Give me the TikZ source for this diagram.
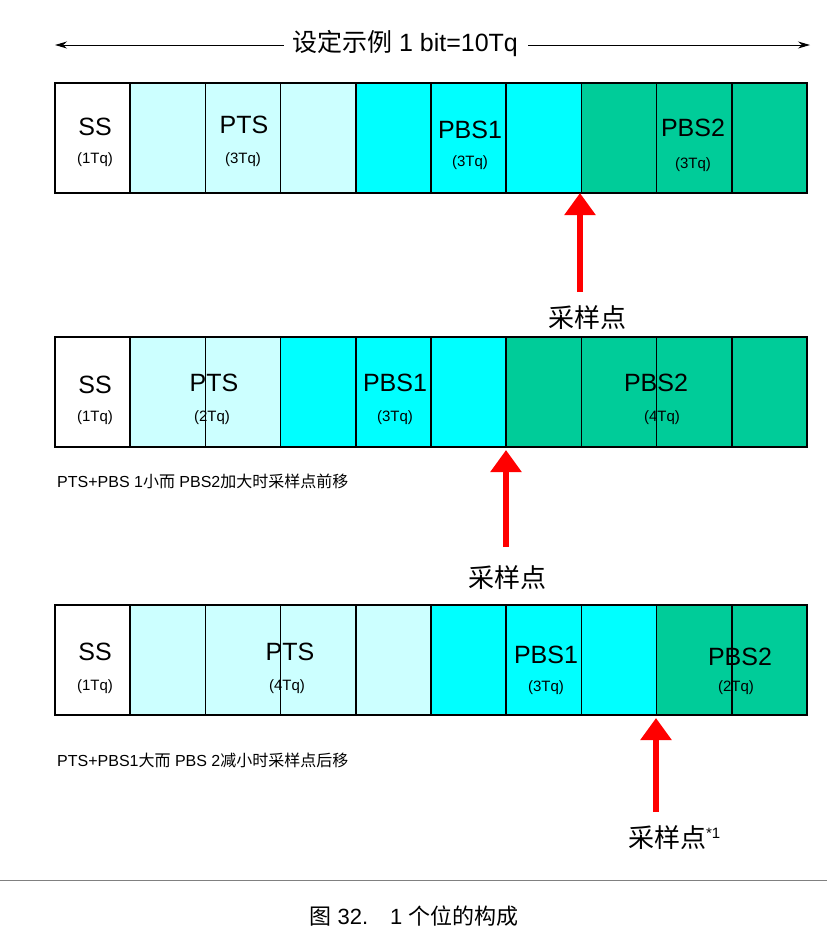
\documentclass[tikz,border=0pt]{standalone}
\usepackage{fontspec}
\setmainfont{Liberation Sans}
\newfontfamily\cjk{Noto Sans CJK SC}
\usetikzlibrary{arrows.meta}
\definecolor{lc}{HTML}{CCFFFF}
\definecolor{cy}{HTML}{00FFFF}
\definecolor{gr}{HTML}{00CC99}
\tikzset{
 cell/.style={draw=black,line width=1.6pt},
 big/.style={font=\fontsize{25}{25}\selectfont,inner sep=0},
 sml/.style={font=\fontsize{15}{15}\selectfont,inner sep=0},
 lab/.style={font=\cjk\fontsize{26}{26}\selectfont,inner sep=0},
 note/.style={font=\fontsize{16}{16}\selectfont,anchor=west,inner sep=0},
 redarrow/.style={draw=red,line width=6pt,-{Triangle[length=22pt,width=30pt]}},
}
\begin{document}
\begin{tikzpicture}[x=1pt,y=-1pt]
\useasboundingbox (0,0) rectangle (827,948);
\def\cw{75.2}
% bars: #1 top y, #2 PTS cells, #3 PBS1 cells
\foreach \ty/\np/\nb in {83/3/3,337/2/3,605/4/3}{
  \foreach \i in {0,...,9}{
    \pgfmathsetmacro\x{55+\i*\cw}
    \pgfmathtruncatemacro\a{\np}
    \pgfmathtruncatemacro\b{\np+\nb}
    \ifnum\i=0 \def\c{white}\else
      \ifnum\i>\a \ifnum\i>\b \def\c{gr}\else\def\c{cy}\fi\else\def\c{lc}\fi\fi
    \fill[\c] (\x,\ty) rectangle ++(\cw,110);
    \draw[cell] (\x,\ty) rectangle ++(\cw,110);
  }
}
% top arrow
\node[font=\fontsize{25}{25}\selectfont,inner sep=0] (title) at (405,44) {{\cjk 设定示例} 1 bit=10Tq};
\coordinate (tl) at (55,45); \coordinate (tr) at (810,45);
\draw[-{Stealth[length=12pt,width=7pt]},line width=1pt] (title.west) ++(-8,1) -- (tl);
\draw[-{Stealth[length=12pt,width=7pt]},line width=1pt] (title.east) ++(10,1) -- (tr);
% bar1 texts
\node[big] (a1) at (95,127) {SS}; \node[sml] (a2) at (95,160) {(1Tq)};
\node[big] (a3) at (244,125) {PTS}; \node[sml] (a4) at (243,160) {(3Tq)};
\node[big] (a5) at (470,130) {PBS1}; \node[sml] (a6) at (470,163) {(3Tq)};
\node[big] (a7) at (693,128) {PBS2}; \node[sml] (a8) at (693,165) {(3Tq)};
% bar2
\node[big] (b1) at (95,385) {SS}; \node[sml] (b2) at (95,418) {(1Tq)};
\node[big] (b3) at (214,383) {PTS}; \node[sml] (b4) at (212,418) {(2Tq)};
\node[big] (b5) at (395,383) {PBS1}; \node[sml] (b6) at (395,418) {(3Tq)};
\node[big] (b7) at (656,383) {PBS2}; \node[sml] (b8) at (662,418) {(4Tq)};
% bar3
\node[big] (c1) at (95,652) {SS}; \node[sml] (c2) at (95,687) {(1Tq)};
\node[big] (c3) at (290,652) {PTS}; \node[sml] (c4) at (287,687) {(4Tq)};
\node[big] (c5) at (546,655) {PBS1}; \node[sml] (c6) at (546,688) {(3Tq)};
\node[big] (c7) at (740,657) {PBS2}; \node[sml] (c8) at (736,688) {(2Tq)};
% arrows and labels
\coordinate (s1) at (580,193); \coordinate (e1) at (580,292);
\draw[redarrow] (e1) -- (s1);
\node[lab] (l1) at (587,318) {采样点};
\coordinate (s2) at (506,450); \coordinate (e2) at (506,547);
\draw[redarrow] (e2) -- (s2);
\node[lab] (l2) at (507,578) {采样点};
\coordinate (s3) at (656,718); \coordinate (e3) at (656,812);
\draw[redarrow] (e3) -- (s3);
\node[lab] (l3) at (667,838) {采样点\rlap{\raisebox{9pt}{\fontspec{Liberation Sans}\fontsize{15}{15}\selectfont *1}}};
% notes
\node[note] (n1) at (57,481) {PTS+PBS 1{\cjk 小而} PBS2{\cjk 加大时采样点前移}};
\node[note] (n2) at (57,760) {PTS+PBS1{\cjk 大而} PBS 2{\cjk 减小时采样点后移}};
% caption
\coordinate (h1) at (0,880); \coordinate (h2) at (827,880);
\draw[gray,line width=0.8pt] (h1) -- (h2);
\node[font=\fontsize{22}{22}\selectfont,inner sep=0] (cap) at (414,916) {{\cjk 图} 32.\quad 1 {\cjk 个位的构成}};
\end{tikzpicture}
\end{document}
